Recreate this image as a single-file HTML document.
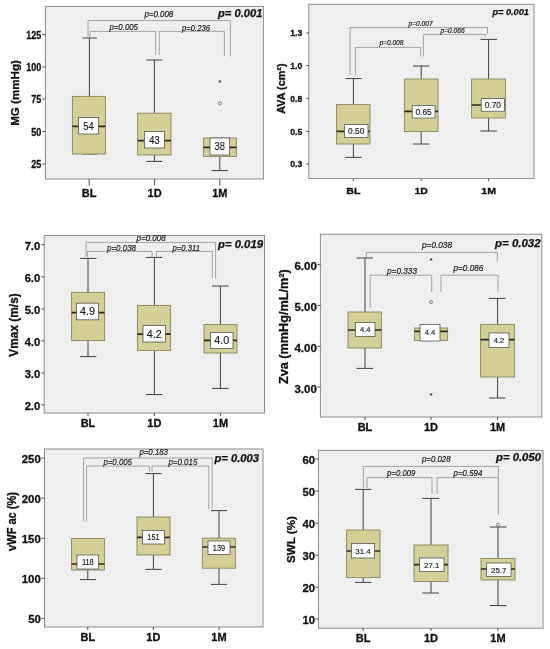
<!DOCTYPE html>
<html><head><meta charset="utf-8"><title>Box plots</title>
<style>
html,body{margin:0;padding:0;background:#fff}
svg{display:block}
text{font-family:"Liberation Sans",Arial,Helvetica,sans-serif}
.b{font-weight:bold;fill:#111;stroke:#111;stroke-width:0.3px}
.p{font-style:italic;fill:#1a1a1a;stroke:#1a1a1a;stroke-width:0.2px}
.bp{font-weight:bold;font-style:italic;fill:#111;stroke:#111;stroke-width:0.25px}
.l{fill:#1a1a1a;stroke:#1a1a1a;stroke-width:0.15px}
</style></head><body>
<svg width="550" height="649" viewBox="0 0 550 649">
<rect width="550" height="649" fill="#fff"/>
<g>
<rect x="45.4" y="6.4" width="218" height="172.6" fill="#efefef" stroke="#8c8c8c" stroke-width="1"/>
<line x1="42.2" y1="34.4" x2="45.4" y2="34.4" stroke="#404040" stroke-width="0.9"/><text class="b" transform="translate(41.3,38.8) scale(0.88,1)" font-size="10.3" text-anchor="end">125</text>
<line x1="42.2" y1="67" x2="45.4" y2="67" stroke="#404040" stroke-width="0.9"/><text class="b" transform="translate(41.3,71.4) scale(0.88,1)" font-size="10.3" text-anchor="end">100</text>
<line x1="42.2" y1="99" x2="45.4" y2="99" stroke="#404040" stroke-width="0.9"/><text class="b" transform="translate(41.3,103.4) scale(0.88,1)" font-size="10.3" text-anchor="end">75</text>
<line x1="42.2" y1="131.6" x2="45.4" y2="131.6" stroke="#404040" stroke-width="0.9"/><text class="b" transform="translate(41.3,136) scale(0.88,1)" font-size="10.3" text-anchor="end">50</text>
<line x1="42.2" y1="164" x2="45.4" y2="164" stroke="#404040" stroke-width="0.9"/><text class="b" transform="translate(41.3,168.4) scale(0.88,1)" font-size="10.3" text-anchor="end">25</text>
<text class="b" font-size="11.6" text-anchor="middle" transform="translate(19.03,93) rotate(-90) scale(1,1)">MG (mmHg)</text>
<line x1="89.2" y1="179" x2="89.2" y2="185.6" stroke="#404040" stroke-width="0.9"/><text class="b" transform="translate(89.2,197) scale(1,1)" font-size="11" text-anchor="middle">BL</text>
<line x1="154.6" y1="179" x2="154.6" y2="185.6" stroke="#404040" stroke-width="0.9"/><text class="b" transform="translate(154.6,197) scale(1,1)" font-size="11" text-anchor="middle">1D</text>
<line x1="219.8" y1="179" x2="219.8" y2="185.6" stroke="#404040" stroke-width="0.9"/><text class="b" transform="translate(219.8,197) scale(1,1)" font-size="11" text-anchor="middle">1M</text>
<polyline points="88,37 88,20.6 230.4,20.6 230.4,56.4" fill="none" stroke="#8e8e8e" stroke-width="0.8"/>
<polyline points="90,37 90,31.4 155.6,31.4 155.6,55" fill="none" stroke="#8e8e8e" stroke-width="0.8"/>
<polyline points="159.2,55 159.2,31.4 224.4,31.4 224.4,56" fill="none" stroke="#8e8e8e" stroke-width="0.8"/>
<line x1="89.4" y1="38" x2="89.4" y2="96.4" stroke="#404040" stroke-width="1"/><line x1="82.4" y1="38" x2="97" y2="38" stroke="#404040" stroke-width="1"/><line x1="89.4" y1="154" x2="89.4" y2="154" stroke="#404040" stroke-width="1"/><line x1="82.4" y1="154" x2="97" y2="154" stroke="#404040" stroke-width="1"/><rect x="72.4" y="96.4" width="33" height="57.6" fill="#d4ce97" stroke="#8a855c" stroke-width="0.9"/><line x1="72.4" y1="126.4" x2="105.4" y2="126.4" stroke="#2a2a1c" stroke-width="1.7"/>
<line x1="154.4" y1="60" x2="154.4" y2="113.2" stroke="#404040" stroke-width="1"/><line x1="146.4" y1="60" x2="162.4" y2="60" stroke="#404040" stroke-width="1"/><line x1="154.4" y1="155" x2="154.4" y2="161.4" stroke="#404040" stroke-width="1"/><line x1="146.4" y1="161.4" x2="162.4" y2="161.4" stroke="#404040" stroke-width="1"/><rect x="137.6" y="113.2" width="33.4" height="41.8" fill="#d4ce97" stroke="#8a855c" stroke-width="0.9"/><line x1="137.6" y1="140.6" x2="171" y2="140.6" stroke="#2a2a1c" stroke-width="1.7"/>
<line x1="219.8" y1="156.4" x2="219.8" y2="170.6" stroke="#404040" stroke-width="1"/><line x1="211.6" y1="170.6" x2="228" y2="170.6" stroke="#404040" stroke-width="1"/><rect x="203.4" y="138" width="33" height="18.4" fill="#d4ce97" stroke="#8a855c" stroke-width="0.9"/><line x1="203.4" y1="147.4" x2="236.4" y2="147.4" stroke="#2a2a1c" stroke-width="1.7"/>
<rect x="78.6" y="117.4" width="19.8" height="16.6" fill="#fff" stroke="#555" stroke-width="0.8"/><text class="l" transform="translate(88.5,129.52) scale(0.88,1)" font-size="10.6" text-anchor="middle">54</text>
<rect x="144.4" y="131.4" width="20" height="16.6" fill="#fff" stroke="#555" stroke-width="0.8"/><text class="l" transform="translate(154.4,143.52) scale(0.88,1)" font-size="10.6" text-anchor="middle">43</text>
<rect x="210" y="138" width="19.6" height="17" fill="#fff" stroke="#555" stroke-width="0.8"/><text class="l" transform="translate(219.8,150.32) scale(0.88,1)" font-size="10.6" text-anchor="middle">38</text>
<text class="p" x="144.4" y="17" font-size="9" textLength="28.8" lengthAdjust="spacingAndGlyphs">p=0.008</text>
<text class="p" x="109.4" y="30" font-size="9" textLength="28.6" lengthAdjust="spacingAndGlyphs">p=0.005</text>
<text class="p" x="182" y="31" font-size="9" textLength="28" lengthAdjust="spacingAndGlyphs">p=0.236</text>
<text class="bp" x="218" y="17" font-size="11.2" textLength="44.4" lengthAdjust="spacingAndGlyphs">p= 0.001</text>
<text x="219.8" y="85.2" font-size="8" font-weight="bold" text-anchor="middle" fill="#333">*</text>
<circle cx="219.8" cy="103.4" r="1.5" fill="none" stroke="#555" stroke-width="0.7"/>
</g>
<g>
<rect x="308.8" y="4.3" width="225.2" height="174.3" fill="#efefef" stroke="#8c8c8c" stroke-width="1"/>
<line x1="306.2" y1="33" x2="308.8" y2="33" stroke="#404040" stroke-width="0.9"/><text class="b" transform="translate(302.2,36.2) scale(1,1)" font-size="8.6" text-anchor="end">1.3</text>
<line x1="306.2" y1="65.6" x2="308.8" y2="65.6" stroke="#404040" stroke-width="0.9"/><text class="b" transform="translate(302.2,68.8) scale(1,1)" font-size="8.6" text-anchor="end">1.0</text>
<line x1="306.2" y1="98.4" x2="308.8" y2="98.4" stroke="#404040" stroke-width="0.9"/><text class="b" transform="translate(302.2,101.6) scale(1,1)" font-size="8.6" text-anchor="end">0.8</text>
<line x1="306.2" y1="131.4" x2="308.8" y2="131.4" stroke="#404040" stroke-width="0.9"/><text class="b" transform="translate(302.2,134.6) scale(1,1)" font-size="8.6" text-anchor="end">0.5</text>
<line x1="306.2" y1="164" x2="308.8" y2="164" stroke="#404040" stroke-width="0.9"/><text class="b" transform="translate(302.2,167.2) scale(1,1)" font-size="8.6" text-anchor="end">0.3</text>
<text class="b" font-size="10.8" text-anchor="middle" transform="translate(285.36,88.6) rotate(-90) scale(1,1)">AVA (cm²)</text>
<line x1="353.4" y1="178.6" x2="353.4" y2="181" stroke="#404040" stroke-width="0.9"/><text class="b" transform="translate(353.4,193.7) scale(1.12,1)" font-size="9.5" text-anchor="middle">BL</text>
<line x1="421.2" y1="178.6" x2="421.2" y2="181" stroke="#404040" stroke-width="0.9"/><text class="b" transform="translate(421.2,193.7) scale(1.12,1)" font-size="9.5" text-anchor="middle">1D</text>
<line x1="488.6" y1="178.6" x2="488.6" y2="181" stroke="#404040" stroke-width="0.9"/><text class="b" transform="translate(488.6,193.7) scale(1.12,1)" font-size="9.5" text-anchor="middle">1M</text>
<polyline points="350,75 350,27.6 487.5,27.6 487.5,34" fill="none" stroke="#8e8e8e" stroke-width="0.8"/>
<polyline points="355.4,75 355.4,47.4 420.6,47.4 420.6,56.4" fill="none" stroke="#8e8e8e" stroke-width="0.8"/>
<polyline points="423.4,56.4 423.4,34.4 485.6,34.4 485.6,37" fill="none" stroke="#8e8e8e" stroke-width="0.8"/>
<line x1="353.4" y1="78.6" x2="353.4" y2="104.6" stroke="#404040" stroke-width="1"/><line x1="345.4" y1="78.6" x2="361.6" y2="78.6" stroke="#404040" stroke-width="1"/><line x1="353.4" y1="144" x2="353.4" y2="157.4" stroke="#404040" stroke-width="1"/><line x1="345.4" y1="157.4" x2="361.6" y2="157.4" stroke="#404040" stroke-width="1"/><rect x="336.6" y="104.6" width="33.4" height="39.4" fill="#d4ce97" stroke="#8a855c" stroke-width="0.9"/><line x1="336.6" y1="131.4" x2="370" y2="131.4" stroke="#2a2a1c" stroke-width="1.7"/>
<line x1="421.2" y1="66" x2="421.2" y2="79" stroke="#404040" stroke-width="1"/><line x1="413" y1="66" x2="429.4" y2="66" stroke="#404040" stroke-width="1"/><line x1="421.2" y1="131.4" x2="421.2" y2="144" stroke="#404040" stroke-width="1"/><line x1="413" y1="144" x2="429.4" y2="144" stroke="#404040" stroke-width="1"/><rect x="404.4" y="79" width="33.6" height="52.4" fill="#d4ce97" stroke="#8a855c" stroke-width="0.9"/><line x1="404.4" y1="111.4" x2="438" y2="111.4" stroke="#2a2a1c" stroke-width="1.7"/>
<line x1="488.6" y1="39.4" x2="488.6" y2="79" stroke="#404040" stroke-width="1"/><line x1="480.4" y1="39.4" x2="497" y2="39.4" stroke="#404040" stroke-width="1"/><line x1="488.6" y1="118" x2="488.6" y2="131" stroke="#404040" stroke-width="1"/><line x1="480.4" y1="131" x2="497" y2="131" stroke="#404040" stroke-width="1"/><rect x="471.6" y="79" width="33.8" height="39" fill="#d4ce97" stroke="#8a855c" stroke-width="0.9"/><line x1="471.6" y1="105" x2="505.4" y2="105" stroke="#2a2a1c" stroke-width="1.7"/>
<rect x="344.4" y="124.6" width="23.6" height="12.8" fill="#fff" stroke="#555" stroke-width="0.8"/><text class="l" transform="translate(356.2,134.02) scale(1,1)" font-size="8.4" text-anchor="middle">0.50</text>
<rect x="412.2" y="105.4" width="22.8" height="12.6" fill="#fff" stroke="#555" stroke-width="0.8"/><text class="l" transform="translate(423.6,114.72) scale(1,1)" font-size="8.4" text-anchor="middle">0.65</text>
<rect x="481.2" y="98.6" width="23.2" height="12.6" fill="#fff" stroke="#555" stroke-width="0.8"/><text class="l" transform="translate(492.8,107.92) scale(1,1)" font-size="8.4" text-anchor="middle">0.70</text>
<text class="p" x="408.6" y="25.6" font-size="7.2" textLength="24" lengthAdjust="spacingAndGlyphs">p=0.007</text>
<text class="p" x="379.4" y="45" font-size="7.2" textLength="24" lengthAdjust="spacingAndGlyphs">p=0.008</text>
<text class="p" x="440.6" y="33" font-size="7.2" textLength="24" lengthAdjust="spacingAndGlyphs">p=0.066</text>
<text class="bp" x="492.4" y="15.4" font-size="9.2" textLength="36.6" lengthAdjust="spacingAndGlyphs">p= 0.001</text>
</g>
<g>
<rect x="44.2" y="235.5" width="220.3" height="177.5" fill="#efefef" stroke="#8c8c8c" stroke-width="1"/>
<line x1="41.2" y1="244.7" x2="44.2" y2="244.7" stroke="#404040" stroke-width="0.9"/><text class="b" transform="translate(40.2,249.8) scale(1,1)" font-size="11.2" text-anchor="end">7.0</text>
<line x1="41.2" y1="276.8" x2="44.2" y2="276.8" stroke="#404040" stroke-width="0.9"/><text class="b" transform="translate(40.2,281.9) scale(1,1)" font-size="11.2" text-anchor="end">6.0</text>
<line x1="41.2" y1="309" x2="44.2" y2="309" stroke="#404040" stroke-width="0.9"/><text class="b" transform="translate(40.2,314.1) scale(1,1)" font-size="11.2" text-anchor="end">5.0</text>
<line x1="41.2" y1="340.9" x2="44.2" y2="340.9" stroke="#404040" stroke-width="0.9"/><text class="b" transform="translate(40.2,346) scale(1,1)" font-size="11.2" text-anchor="end">4.0</text>
<line x1="41.2" y1="373" x2="44.2" y2="373" stroke="#404040" stroke-width="0.9"/><text class="b" transform="translate(40.2,378.1) scale(1,1)" font-size="11.2" text-anchor="end">3.0</text>
<line x1="41.2" y1="404.8" x2="44.2" y2="404.8" stroke="#404040" stroke-width="0.9"/><text class="b" transform="translate(40.2,409.9) scale(1,1)" font-size="11.2" text-anchor="end">2.0</text>
<text class="b" font-size="11.9" text-anchor="middle" transform="translate(18.33,325) rotate(-90) scale(1,1)">Vmax (m/s)</text>
<line x1="88" y1="413" x2="88" y2="416" stroke="#404040" stroke-width="0.9"/><text class="b" transform="translate(88,426.8) scale(1,1)" font-size="11" text-anchor="middle">BL</text>
<line x1="154.4" y1="413" x2="154.4" y2="416" stroke="#404040" stroke-width="0.9"/><text class="b" transform="translate(154.4,426.8) scale(1,1)" font-size="11" text-anchor="middle">1D</text>
<line x1="220.4" y1="413" x2="220.4" y2="416" stroke="#404040" stroke-width="0.9"/><text class="b" transform="translate(220.4,426.8) scale(1,1)" font-size="11" text-anchor="middle">1M</text>
<polyline points="86,257 86,242.4 215.6,242.4 215.6,278.5" fill="none" stroke="#8e8e8e" stroke-width="0.8"/>
<polyline points="87.4,257 87.4,251.4 152,251.4 152,257" fill="none" stroke="#8e8e8e" stroke-width="0.8"/>
<polyline points="156.4,257 156.4,251.4 212.4,251.4 212.4,278" fill="none" stroke="#8e8e8e" stroke-width="0.8"/>
<line x1="88" y1="258.4" x2="88" y2="292.4" stroke="#404040" stroke-width="1"/><line x1="80" y1="258.4" x2="96.4" y2="258.4" stroke="#404040" stroke-width="1"/><line x1="88" y1="340.5" x2="88" y2="356.6" stroke="#404040" stroke-width="1"/><line x1="80" y1="356.6" x2="96.4" y2="356.6" stroke="#404040" stroke-width="1"/><rect x="71.6" y="292.4" width="33" height="48.1" fill="#d4ce97" stroke="#8a855c" stroke-width="0.9"/><line x1="71.6" y1="312.6" x2="104.6" y2="312.6" stroke="#2a2a1c" stroke-width="1.7"/>
<line x1="154.4" y1="257.4" x2="154.4" y2="305.4" stroke="#404040" stroke-width="1"/><line x1="146" y1="257.4" x2="162.4" y2="257.4" stroke="#404040" stroke-width="1"/><line x1="154.4" y1="350.4" x2="154.4" y2="394.6" stroke="#404040" stroke-width="1"/><line x1="146" y1="394.6" x2="162.4" y2="394.6" stroke="#404040" stroke-width="1"/><rect x="137.4" y="305.4" width="33.2" height="45" fill="#d4ce97" stroke="#8a855c" stroke-width="0.9"/><line x1="137.4" y1="334.2" x2="170.6" y2="334.2" stroke="#2a2a1c" stroke-width="1.7"/>
<line x1="220.4" y1="286" x2="220.4" y2="324.6" stroke="#404040" stroke-width="1"/><line x1="212" y1="286" x2="228.6" y2="286" stroke="#404040" stroke-width="1"/><line x1="220.4" y1="353" x2="220.4" y2="388.4" stroke="#404040" stroke-width="1"/><line x1="212" y1="388.4" x2="228.6" y2="388.4" stroke="#404040" stroke-width="1"/><rect x="204" y="324.6" width="33" height="28.4" fill="#d4ce97" stroke="#8a855c" stroke-width="0.9"/><line x1="204" y1="340.4" x2="237" y2="340.4" stroke="#2a2a1c" stroke-width="1.7"/>
<rect x="76.4" y="303.2" width="22.2" height="16.6" fill="#fff" stroke="#555" stroke-width="0.8"/><text class="l" transform="translate(87.5,315.39) scale(1,1)" font-size="10.8" text-anchor="middle">4.9</text>
<rect x="143" y="325.5" width="22.4" height="16.5" fill="#fff" stroke="#555" stroke-width="0.8"/><text class="l" transform="translate(154.2,337.64) scale(1,1)" font-size="10.8" text-anchor="middle">4.2</text>
<rect x="210.6" y="332.4" width="22.4" height="16.2" fill="#fff" stroke="#555" stroke-width="0.8"/><text class="l" transform="translate(221.8,344.39) scale(1,1)" font-size="10.8" text-anchor="middle">4.0</text>
<text class="p" x="136.6" y="241.4" font-size="9" textLength="29" lengthAdjust="spacingAndGlyphs">p=0.008</text>
<text class="p" x="107" y="251" font-size="9" textLength="29" lengthAdjust="spacingAndGlyphs">p=0.038</text>
<text class="p" x="172.4" y="251.4" font-size="9" textLength="27.6" lengthAdjust="spacingAndGlyphs">p=0.311</text>
<text class="bp" x="218" y="248.4" font-size="11" textLength="45" lengthAdjust="spacingAndGlyphs">p= 0.019</text>
</g>
<g>
<rect x="320.4" y="234.2" width="221.4" height="182.8" fill="#efefef" stroke="#8c8c8c" stroke-width="1"/>
<line x1="317.2" y1="264.6" x2="320.4" y2="264.6" stroke="#404040" stroke-width="0.9"/><text class="b" transform="translate(316.8,270.1) scale(1,1)" font-size="11.5" text-anchor="end">6.00</text>
<line x1="317.2" y1="305.4" x2="320.4" y2="305.4" stroke="#404040" stroke-width="0.9"/><text class="b" transform="translate(316.8,310.9) scale(1,1)" font-size="11.5" text-anchor="end">5.00</text>
<line x1="317.2" y1="346.4" x2="320.4" y2="346.4" stroke="#404040" stroke-width="0.9"/><text class="b" transform="translate(316.8,351.9) scale(1,1)" font-size="11.5" text-anchor="end">4.00</text>
<line x1="317.2" y1="387" x2="320.4" y2="387" stroke="#404040" stroke-width="0.9"/><text class="b" transform="translate(316.8,392.5) scale(1,1)" font-size="11.5" text-anchor="end">3.00</text>
<text class="b" font-size="12.7" text-anchor="middle" transform="translate(288.49,326.6) rotate(-90) scale(1,1)">Zva (mmHg/mL/m²)</text>
<line x1="365" y1="417" x2="365" y2="420" stroke="#404040" stroke-width="0.9"/><text class="b" transform="translate(365,431) scale(1,1)" font-size="11" text-anchor="middle">BL</text>
<line x1="431" y1="417" x2="431" y2="420" stroke="#404040" stroke-width="0.9"/><text class="b" transform="translate(431,431) scale(1,1)" font-size="11" text-anchor="middle">1D</text>
<line x1="497.6" y1="417" x2="497.6" y2="420" stroke="#404040" stroke-width="0.9"/><text class="b" transform="translate(497.6,431) scale(1,1)" font-size="11" text-anchor="middle">1M</text>
<polyline points="366.4,258 366.4,252.4 497.4,252.4 497.4,262" fill="none" stroke="#8e8e8e" stroke-width="0.8"/>
<polyline points="370.2,308.5 370.2,275.2 431.7,275.2 431.7,292" fill="none" stroke="#8e8e8e" stroke-width="0.8"/>
<polyline points="441,292 441,275.2 498,275.2 498,292" fill="none" stroke="#8e8e8e" stroke-width="0.8"/>
<line x1="365" y1="258" x2="365" y2="312" stroke="#404040" stroke-width="1"/><line x1="356.6" y1="258" x2="373" y2="258" stroke="#404040" stroke-width="1"/><line x1="365" y1="348" x2="365" y2="368.4" stroke="#404040" stroke-width="1"/><line x1="356.6" y1="368.4" x2="373" y2="368.4" stroke="#404040" stroke-width="1"/><rect x="348" y="312" width="33.4" height="36" fill="#d4ce97" stroke="#8a855c" stroke-width="0.9"/><line x1="348" y1="330" x2="381.4" y2="330" stroke="#2a2a1c" stroke-width="1.7"/>
<rect x="414.4" y="328" width="33.2" height="12.4" fill="#d4ce97" stroke="#8a855c" stroke-width="0.9"/><line x1="414.4" y1="331.4" x2="447.6" y2="331.4" stroke="#2a2a1c" stroke-width="1.7"/>
<line x1="497.6" y1="298.4" x2="497.6" y2="324.4" stroke="#404040" stroke-width="1"/><line x1="489" y1="298.4" x2="505.4" y2="298.4" stroke="#404040" stroke-width="1"/><line x1="497.6" y1="377" x2="497.6" y2="398" stroke="#404040" stroke-width="1"/><line x1="489" y1="398" x2="505.4" y2="398" stroke="#404040" stroke-width="1"/><rect x="480.6" y="324.4" width="33.8" height="52.6" fill="#d4ce97" stroke="#8a855c" stroke-width="0.9"/><line x1="480.6" y1="339.6" x2="514.4" y2="339.6" stroke="#2a2a1c" stroke-width="1.7"/>
<rect x="355.4" y="322.5" width="19.6" height="13.9" fill="#fff" stroke="#555" stroke-width="0.8"/><text class="l" transform="translate(365.2,332.19) scale(1,1)" font-size="7.6" text-anchor="middle">4.4</text>
<rect x="420" y="324.4" width="20" height="16.6" fill="#fff" stroke="#555" stroke-width="0.8"/><text class="l" transform="translate(430,335.44) scale(1,1)" font-size="7.6" text-anchor="middle">4.4</text>
<rect x="489" y="333" width="20" height="14.4" fill="#fff" stroke="#555" stroke-width="0.8"/><text class="l" transform="translate(499,342.94) scale(1,1)" font-size="7.6" text-anchor="middle">4.2</text>
<text class="p" x="422" y="248" font-size="8.6" textLength="30" lengthAdjust="spacingAndGlyphs">p=0.038</text>
<text class="p" x="387" y="274" font-size="8.6" textLength="30" lengthAdjust="spacingAndGlyphs">p=0.333</text>
<text class="p" x="453.6" y="271" font-size="8.6" textLength="29.6" lengthAdjust="spacingAndGlyphs">p=0.086</text>
<text class="bp" x="495" y="247" font-size="11.3" textLength="45.6" lengthAdjust="spacingAndGlyphs">p= 0.032</text>
<text x="431" y="263.2" font-size="8" font-weight="bold" text-anchor="middle" fill="#333">*</text>
<circle cx="431" cy="302" r="1.5" fill="none" stroke="#555" stroke-width="0.7"/>
<text x="431" y="398.2" font-size="8" font-weight="bold" text-anchor="middle" fill="#333">*</text>
</g>
<g>
<rect x="44.5" y="449" width="218.5" height="178" fill="#efefef" stroke="#8c8c8c" stroke-width="1"/>
<line x1="41.5" y1="458.1" x2="44.5" y2="458.1" stroke="#404040" stroke-width="0.9"/><text class="b" transform="translate(40.8,462.8) scale(1,1)" font-size="11.4" text-anchor="end">250</text>
<line x1="41.5" y1="498.2" x2="44.5" y2="498.2" stroke="#404040" stroke-width="0.9"/><text class="b" transform="translate(40.8,502.9) scale(1,1)" font-size="11.4" text-anchor="end">200</text>
<line x1="41.5" y1="538.3" x2="44.5" y2="538.3" stroke="#404040" stroke-width="0.9"/><text class="b" transform="translate(40.8,543) scale(1,1)" font-size="11.4" text-anchor="end">150</text>
<line x1="41.5" y1="578.3" x2="44.5" y2="578.3" stroke="#404040" stroke-width="0.9"/><text class="b" transform="translate(40.8,583) scale(1,1)" font-size="11.4" text-anchor="end">100</text>
<line x1="41.5" y1="618.4" x2="44.5" y2="618.4" stroke="#404040" stroke-width="0.9"/><text class="b" transform="translate(40.8,623.1) scale(1,1)" font-size="11.4" text-anchor="end">50</text>
<text class="b" font-size="12" text-anchor="middle" transform="translate(15.96,521.5) rotate(-90) scale(0.92,1)">vWF ac (%)</text>
<line x1="87.8" y1="627" x2="87.8" y2="630" stroke="#404040" stroke-width="0.9"/><text class="b" transform="translate(87.8,640.9) scale(1,1)" font-size="11" text-anchor="middle">BL</text>
<line x1="153.4" y1="627" x2="153.4" y2="630" stroke="#404040" stroke-width="0.9"/><text class="b" transform="translate(153.4,640.9) scale(1,1)" font-size="11" text-anchor="middle">1D</text>
<line x1="219" y1="627" x2="219" y2="630" stroke="#404040" stroke-width="0.9"/><text class="b" transform="translate(219,640.9) scale(1,1)" font-size="11" text-anchor="middle">1M</text>
<polyline points="83.6,521.4 83.6,458 212.2,458 212.2,509" fill="none" stroke="#8e8e8e" stroke-width="0.8"/>
<polyline points="86.6,521.4 86.6,466 149.4,466 149.4,472" fill="none" stroke="#8e8e8e" stroke-width="0.8"/>
<polyline points="152,472 152,466 208.8,466 208.8,509" fill="none" stroke="#8e8e8e" stroke-width="0.8"/>
<line x1="87.8" y1="570" x2="87.8" y2="579.6" stroke="#404040" stroke-width="1"/><line x1="80" y1="579.6" x2="96" y2="579.6" stroke="#404040" stroke-width="1"/><rect x="71.6" y="538.4" width="32.8" height="31.6" fill="#d4ce97" stroke="#8a855c" stroke-width="0.9"/><line x1="71.6" y1="564" x2="104.4" y2="564" stroke="#2a2a1c" stroke-width="1.7"/>
<line x1="153.4" y1="473.6" x2="153.4" y2="517" stroke="#404040" stroke-width="1"/><line x1="145.4" y1="473.6" x2="161.6" y2="473.6" stroke="#404040" stroke-width="1"/><line x1="153.4" y1="555" x2="153.4" y2="569.4" stroke="#404040" stroke-width="1"/><line x1="145.4" y1="569.4" x2="161.6" y2="569.4" stroke="#404040" stroke-width="1"/><rect x="137" y="517" width="33" height="38" fill="#d4ce97" stroke="#8a855c" stroke-width="0.9"/><line x1="137" y1="537.4" x2="170" y2="537.4" stroke="#2a2a1c" stroke-width="1.7"/>
<line x1="219" y1="510.6" x2="219" y2="538.2" stroke="#404040" stroke-width="1"/><line x1="211" y1="510.6" x2="227" y2="510.6" stroke="#404040" stroke-width="1"/><line x1="219" y1="568.2" x2="219" y2="584.4" stroke="#404040" stroke-width="1"/><line x1="211" y1="584.4" x2="227" y2="584.4" stroke="#404040" stroke-width="1"/><rect x="202.4" y="538.2" width="33" height="30" fill="#d4ce97" stroke="#8a855c" stroke-width="0.9"/><line x1="202.4" y1="547" x2="235.4" y2="547" stroke="#2a2a1c" stroke-width="1.7"/>
<rect x="77" y="555" width="21.6" height="14" fill="#fff" stroke="#555" stroke-width="0.8"/><text class="l" transform="translate(87.8,564.95) scale(0.9,1)" font-size="8.2" text-anchor="middle">118</text>
<rect x="142.4" y="530.4" width="22.2" height="13.6" fill="#fff" stroke="#555" stroke-width="0.8"/><text class="l" transform="translate(153.5,540.15) scale(0.9,1)" font-size="8.2" text-anchor="middle">151</text>
<rect x="208" y="541" width="22" height="13.4" fill="#fff" stroke="#555" stroke-width="0.8"/><text class="l" transform="translate(219,550.65) scale(0.9,1)" font-size="8.2" text-anchor="middle">139</text>
<text class="p" x="139.4" y="455.2" font-size="9.2" textLength="28.6" lengthAdjust="spacingAndGlyphs">p=0.183</text>
<text class="p" x="103.4" y="464.8" font-size="9.2" textLength="28.6" lengthAdjust="spacingAndGlyphs">p=0.005</text>
<text class="p" x="168.4" y="465" font-size="9.2" textLength="29" lengthAdjust="spacingAndGlyphs">p=0.015</text>
<text class="bp" x="214.4" y="462" font-size="11" textLength="44.6" lengthAdjust="spacingAndGlyphs">p= 0.003</text>
</g>
<g>
<rect x="318.4" y="450.3" width="224.6" height="177.9" fill="#efefef" stroke="#8c8c8c" stroke-width="1"/>
<line x1="315.4" y1="459" x2="318.4" y2="459" stroke="#404040" stroke-width="0.9"/><text class="b" transform="translate(315,464) scale(1,1)" font-size="11.3" text-anchor="end">60</text>
<line x1="315.4" y1="491.1" x2="318.4" y2="491.1" stroke="#404040" stroke-width="0.9"/><text class="b" transform="translate(315,496.1) scale(1,1)" font-size="11.3" text-anchor="end">50</text>
<line x1="315.4" y1="523.2" x2="318.4" y2="523.2" stroke="#404040" stroke-width="0.9"/><text class="b" transform="translate(315,528.2) scale(1,1)" font-size="11.3" text-anchor="end">40</text>
<line x1="315.4" y1="555.2" x2="318.4" y2="555.2" stroke="#404040" stroke-width="0.9"/><text class="b" transform="translate(315,560.2) scale(1,1)" font-size="11.3" text-anchor="end">30</text>
<line x1="315.4" y1="587.2" x2="318.4" y2="587.2" stroke="#404040" stroke-width="0.9"/><text class="b" transform="translate(315,592.2) scale(1,1)" font-size="11.3" text-anchor="end">20</text>
<line x1="315.4" y1="619" x2="318.4" y2="619" stroke="#404040" stroke-width="0.9"/><text class="b" transform="translate(315,624) scale(1,1)" font-size="11.3" text-anchor="end">10</text>
<text class="b" font-size="11.6" text-anchor="middle" transform="translate(295.43,539.5) rotate(-90) scale(1,1)">SWL (%)</text>
<line x1="363.2" y1="628" x2="363.2" y2="631" stroke="#404040" stroke-width="0.9"/><text class="b" transform="translate(363.2,641.6) scale(1,1)" font-size="11" text-anchor="middle">BL</text>
<line x1="431" y1="628" x2="431" y2="631" stroke="#404040" stroke-width="0.9"/><text class="b" transform="translate(431,641.6) scale(1,1)" font-size="11" text-anchor="middle">1D</text>
<line x1="498" y1="628" x2="498" y2="631" stroke="#404040" stroke-width="0.9"/><text class="b" transform="translate(498,641.6) scale(1,1)" font-size="11" text-anchor="middle">1M</text>
<polyline points="363.4,488 363.4,466.4 498.4,466.4 498.4,477.6" fill="none" stroke="#8e8e8e" stroke-width="0.8"/>
<polyline points="367,488 367,477.6 432,477.6 432,494" fill="none" stroke="#8e8e8e" stroke-width="0.8"/>
<polyline points="437,494 437,477.6 498.4,477.6 498.4,514.6" fill="none" stroke="#8e8e8e" stroke-width="0.8"/>
<line x1="363.2" y1="489.4" x2="363.2" y2="530" stroke="#404040" stroke-width="1"/><line x1="355" y1="489.4" x2="371.4" y2="489.4" stroke="#404040" stroke-width="1"/><line x1="363.2" y1="577.6" x2="363.2" y2="582.4" stroke="#404040" stroke-width="1"/><line x1="355" y1="582.4" x2="371.4" y2="582.4" stroke="#404040" stroke-width="1"/><rect x="346.6" y="530" width="33.4" height="47.6" fill="#d4ce97" stroke="#8a855c" stroke-width="0.9"/><line x1="346.6" y1="551" x2="380" y2="551" stroke="#2a2a1c" stroke-width="1.7"/>
<line x1="431" y1="498.4" x2="431" y2="545" stroke="#404040" stroke-width="1"/><line x1="422.4" y1="498.4" x2="439" y2="498.4" stroke="#404040" stroke-width="1"/><line x1="431" y1="581.6" x2="431" y2="593" stroke="#404040" stroke-width="1"/><line x1="422.4" y1="593" x2="439" y2="593" stroke="#404040" stroke-width="1"/><rect x="414" y="545" width="34" height="36.6" fill="#d4ce97" stroke="#8a855c" stroke-width="0.9"/><line x1="414" y1="564.6" x2="448" y2="564.6" stroke="#2a2a1c" stroke-width="1.7"/>
<line x1="498" y1="527" x2="498" y2="558.4" stroke="#404040" stroke-width="1"/><line x1="489.6" y1="527" x2="506.6" y2="527" stroke="#404040" stroke-width="1"/><line x1="498" y1="580" x2="498" y2="605.6" stroke="#404040" stroke-width="1"/><line x1="489.6" y1="605.6" x2="506.6" y2="605.6" stroke="#404040" stroke-width="1"/><rect x="481" y="558.4" width="34" height="21.6" fill="#d4ce97" stroke="#8a855c" stroke-width="0.9"/><line x1="481" y1="569" x2="515" y2="569" stroke="#2a2a1c" stroke-width="1.7"/>
<rect x="351.4" y="543.6" width="23.2" height="14.4" fill="#fff" stroke="#555" stroke-width="0.8"/><text class="l" transform="translate(363,553.64) scale(1,1)" font-size="7.9" text-anchor="middle">31.4</text>
<rect x="419.4" y="558" width="24.6" height="13.4" fill="#fff" stroke="#555" stroke-width="0.8"/><text class="l" transform="translate(431.7,567.54) scale(1,1)" font-size="7.9" text-anchor="middle">27.1</text>
<rect x="486.4" y="563" width="24.6" height="13.4" fill="#fff" stroke="#555" stroke-width="0.8"/><text class="l" transform="translate(498.7,572.54) scale(1,1)" font-size="7.9" text-anchor="middle">25.7</text>
<text class="p" x="422" y="462" font-size="9.2" textLength="28.6" lengthAdjust="spacingAndGlyphs">p=0.028</text>
<text class="p" x="387" y="476.4" font-size="9.2" textLength="28.4" lengthAdjust="spacingAndGlyphs">p=0.009</text>
<text class="p" x="453.6" y="476.4" font-size="9.2" textLength="28.8" lengthAdjust="spacingAndGlyphs">p=0.594</text>
<text class="bp" x="496" y="461" font-size="11" textLength="45" lengthAdjust="spacingAndGlyphs">p= 0.050</text>
<circle cx="498" cy="524.6" r="1.5" fill="none" stroke="#555" stroke-width="0.7"/>
</g>
</svg>
</body></html>
